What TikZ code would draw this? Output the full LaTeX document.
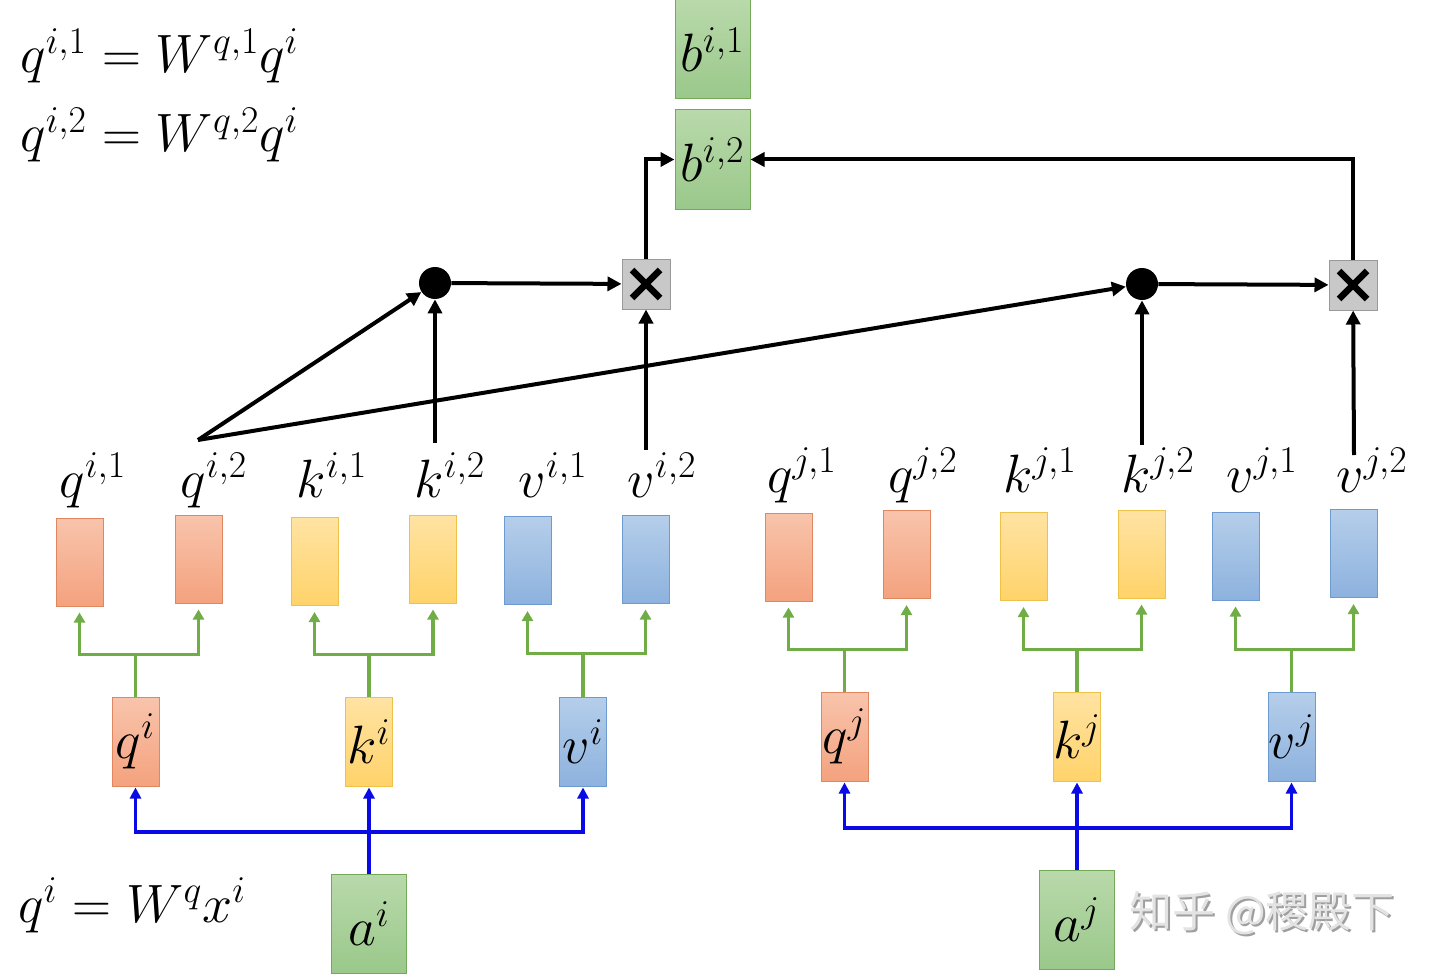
\RequirePackage{fix-cm}
\documentclass[tikz,border=0pt]{standalone}
\usepackage{fontspec}
\newfontfamily\cjk{Noto Sans CJK SC}
\usetikzlibrary{arrows.meta,calc}
\definecolor{qtop}{HTML}{F8C4AC}
\definecolor{qbot}{HTML}{F4A27E}
\definecolor{qbd}{HTML}{E0875F}
\definecolor{ktop}{HTML}{FFE3A3}
\definecolor{kbot}{HTML}{FFD36A}
\definecolor{kbd}{HTML}{EDC14A}
\definecolor{vtop}{HTML}{B5CEEA}
\definecolor{vbot}{HTML}{8DB2DE}
\definecolor{vbd}{HTML}{6D9BD0}
\definecolor{gtop}{HTML}{B9D9AB}
\definecolor{gbot}{HTML}{9AC88A}
\definecolor{gbd}{HTML}{74A95A}
\definecolor{garrc}{HTML}{70AD47}
\definecolor{barrc}{HTML}{0A0AE6}
\definecolor{xfill}{HTML}{C8C8C8}
\begin{document}
\begin{tikzpicture}[x=0.5pt,y=-0.5pt,
  every node/.style={inner sep=0pt},
  txt/.style={font=\fontsize{27}{32}\selectfont},
  vec/.style={draw, line width=0.5pt, minimum width=23.5pt, minimum height=44pt},
  qv/.style={vec, draw=qbd, top color=qtop, bottom color=qbot},
  kv/.style={vec, draw=kbd, top color=ktop, bottom color=kbot},
  vv/.style={vec, draw=vbd, top color=vtop, bottom color=vbot},
  mq/.style={qv, minimum height=44.5pt, txt},
  mk/.style={kv, minimum height=44.5pt, txt},
  mv/.style={vv, minimum height=44.5pt, txt},
  gbox/.style={draw=gbd, line width=0.5pt, top color=gtop, bottom color=gbot, minimum width=37.5pt, minimum height=49.5pt, txt},
  dotnode/.style={circle, fill=black, minimum size=16pt},
  xbox/.style={draw=gray!80, fill=xfill, line width=0.5pt, minimum width=24pt, minimum height=25pt},
  arr/.style={line width=2pt, -{Triangle[length=7pt,width=7pt]}},
  garr/.style={draw=garrc, line width=1.8pt, -{Triangle[length=5pt,width=5.5pt]}, shorten >=3pt},
  barr/.style={draw=barrc, line width=1.6pt, -{Triangle[length=5.5pt,width=5.5pt]}, shorten >=0.5pt},
]
\useasboundingbox (0,0) rectangle (1430,974);

% formulas
\node[txt, anchor=base west] (f1) at (20,73) {$q^{i,1} = W^{q,1}q^{i}$};
\node[txt, anchor=base west] (f2) at (20,152) {$q^{i,2} = W^{q,2}q^{i}$};
\node[txt, anchor=base west] (f3) at (18,922) {$q^{i} = W^{q}x^{i}$};

% output boxes
\node[gbox] (b1) at (712.5,49.5) {$b^{i,1}$};
\node[gbox] (b2) at (712.5,159.5) {$b^{i,2}$};

% inputs
\node[gbox] (ai) at (369,923.5) {$a^{i}$};
\node[gbox] (aj) at (1077,919.5) {$a^{j}$};

% middle boxes
\node[mq] (qi) at (135.5,741.5) {$q^{i}$};
\node[mk] (ki) at (369,741.5) {$k^{i}$};
\node[mv] (vi) at (583,741.5) {$v^{i}$};
\node[mq] (qj) at (844.5,736.5) {$q^{j}$};
\node[mk] (kj) at (1077,736.5) {$k^{j}$};
\node[mv] (vj) at (1291.5,736.5) {$v^{j}$};

% top vectors
\node[qv] (q1) at (79.5,562) {};
\node[qv] (q2) at (198.5,559) {};
\node[kv] (k1) at (314.5,561.5) {};
\node[kv] (k2) at (433,559) {};
\node[vv] (v1) at (527.5,560.5) {};
\node[vv] (v2) at (645.5,559) {};
\node[qv] (qj1) at (788.5,557) {};
\node[qv] (qj2) at (906.5,554.5) {};
\node[kv] (kj1) at (1023.5,556.5) {};
\node[kv] (kj2) at (1141.5,554) {};
\node[vv] (vj1) at (1235.5,556) {};
\node[vv] (vj2) at (1353.5,553.5) {};

% labels
\node[txt, anchor=base] (lq1) at (93,497) {$q^{i,1}$};
\node[txt, anchor=base] (lq2) at (214,497) {$q^{i,2}$};
\node[txt, anchor=base] (lk1) at (332,497) {$k^{i,1}$};
\node[txt, anchor=base] (lk2) at (450,497) {$k^{i,2}$};
\node[txt, anchor=base] (lv1) at (553,497) {$v^{i,1}$};
\node[txt, anchor=base] (lv2) at (662,497) {$v^{i,2}$};
\node[txt, anchor=base] (lqj1) at (802,492) {$q^{j,1}$};
\node[txt, anchor=base] (lqj2) at (923,492) {$q^{j,2}$};
\node[txt, anchor=base] (lkj1) at (1040,492) {$k^{j,1}$};
\node[txt, anchor=base] (lkj2) at (1158,492) {$k^{j,2}$};
\node[txt, anchor=base] (lvj1) at (1262,492) {$v^{j,1}$};
\node[txt, anchor=base] (lvj2) at (1372,492) {$v^{j,2}$};

% dots and multiply boxes
\node[dotnode] (d1) at (435,283) {};
\node[dotnode] (d2) at (1142,284) {};
\node[xbox] (x1) at (646,284) {};
\node[xbox] (x2) at (1353,285) {};
\foreach \n in {x1,x2}{
  \draw[line width=3.2pt] ($(\n.center)+(-14,-14)$) -- ($(\n.center)+(14,14)$);
  \draw[line width=3.2pt] ($(\n.center)+(-14,14)$) -- ($(\n.center)+(14,-14)$);
}

% green trees
\draw[garr] (qi.north) -- ++(0,-42) -| (q1.south);
\draw[garr] (qi.north) ++(0,-42) -| (q2.south);
\draw[garr] (ki.north) -- ++(0,-42) -| (k1.south);
\draw[garr] (ki.north) ++(0,-42) -| (k2.south);
\draw[garr] (vi.north) -- ++(0,-43) -| (v1.south);
\draw[garr] (vi.north) ++(0,-43) -| (v2.south);
\draw[garr] (qj.north) -- ++(0,-42) -| (qj1.south);
\draw[garr] (qj.north) ++(0,-42) -| (qj2.south);
\draw[garr] (kj.north) -- ++(0,-42) -| (kj1.south);
\draw[garr] (kj.north) ++(0,-42) -| (kj2.south);
\draw[garr] (vj.north) -- ++(0,-42) -| (vj1.south);
\draw[garr] (vj.north) ++(0,-42) -| (vj2.south);

% blue inputs
\coordinate (bi) at (369,832);
\coordinate (bj) at (1077,828);
\draw[barr] (ai.north) -- (ki.south);
\draw[barr] (bi) -| (qi.south);
\draw[barr] (bi) -| (vi.south);
\draw[barr] (aj.north) -- (kj.south);
\draw[barr] (bj) -| (qj.south);
\draw[barr] (bj) -| (vj.south);

% black attention arrows
\coordinate (qs) at (198,440);
\coordinate (k2t) at (435,443);
\coordinate (v2t) at (646,450);
\coordinate (kj2t) at (1142,445);
\coordinate (vj2t) at (1354,455);
\draw[arr] (qs) -- (d1);
\draw[arr] (qs) -- (d2);
\draw[arr] (k2t) -- (d1);
\draw[arr] (d1) -- (x1);
\draw[arr] (v2t) -- (x1);
\draw[arr] (x1) |- (b2);
\draw[arr] (kj2t) -- (d2);
\draw[arr] (d2) -- (x2);
\draw[arr] (vj2t) -- (x2);
\draw[arr] (x2) |- (b2);

% watermark
\node[font=\cjk\fontsize{21.5}{26}\selectfont, text=gray!75, anchor=base west] (wm0) at (1131,929) {知乎 @稷殿下};
\node[font=\cjk\fontsize{21.5}{26}\selectfont, text=gray!22, anchor=base west] (wm) at (1129,927) {知乎 @稷殿下};
\end{tikzpicture}
\end{document}
